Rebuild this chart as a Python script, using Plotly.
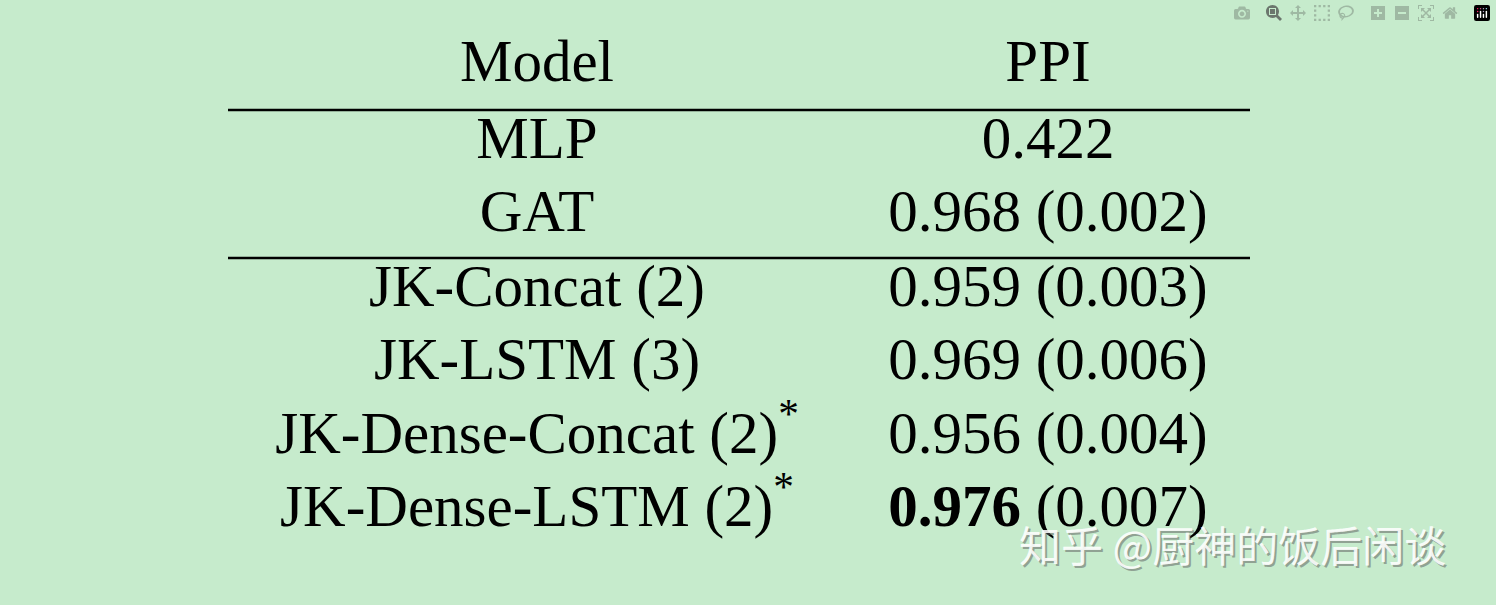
import plotly.graph_objects as go

# table content
models = ["MLP", "GAT", "JK-Concat (2)", "JK-LSTM (3)",
          "JK-Dense-Concat (2)<sup>*</sup>", "JK-Dense-LSTM (2)<sup>*</sup>"]
ppi = ["0.422", "0.968 (0.002)", "0.959 (0.003)", "0.969 (0.006)",
       "0.956 (0.004)", "<b>0.976</b> (0.007)"]
headers = ["Model", "PPI"]

BG = "#c6ebcc"
W, H = 1496, 605
row_y = [143, 216, 291, 364, 438, 511]
col_x = [537, 1048]
font = dict(family="Liberation Serif, Times New Roman, serif", size=59, color="#000")

fig = go.Figure()
fig.add_trace(go.Scatter(x=col_x, y=[66, 66], mode="text", text=headers,
                         textfont=font, hoverinfo="skip"))
fig.add_trace(go.Scatter(x=[col_x[0]] * len(models), y=row_y, mode="text",
                         text=models, textfont=font, hoverinfo="skip"))
fig.add_trace(go.Scatter(x=[col_x[1]] * len(ppi), y=row_y, mode="text",
                         text=ppi, textfont=font, hoverinfo="skip"))

for yy in (110, 258):
    fig.add_shape(type="line", x0=228, x1=1250, y0=yy, y1=yy,
                  line=dict(color="#000", width=2.5))

# watermark
wm = "知乎 @厨神的饭后闲谈"
fig.add_annotation(x=1232, y=543, text=wm, showarrow=False, xshift=2, yshift=-2,
                   font=dict(family="Noto Sans CJK SC", size=42, color="rgba(90,90,90,0.5)"))
fig.add_annotation(x=1232, y=543, text=wm, showarrow=False,
                   font=dict(family="Noto Sans CJK SC", size=42, color="rgba(255,255,255,0.9)"))

fig.update_layout(width=W, height=H, margin=dict(l=0, r=0, t=0, b=0),
                  paper_bgcolor=BG, plot_bgcolor=BG, showlegend=False)
fig.update_xaxes(range=[0, W], visible=False)
fig.update_yaxes(range=[H, 0], visible=False)
fig.write_html("out.html",
               post_script="document.body.style.margin='0';"
                           "document.body.style.background='#c6ebcc';")
